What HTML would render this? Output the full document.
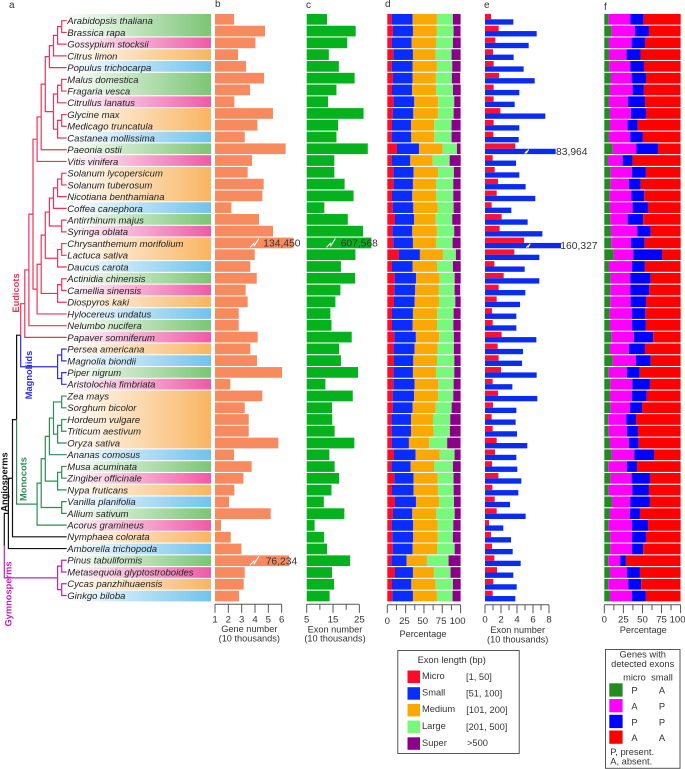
<!DOCTYPE html>
<html lang="en">
<head>
<meta charset="utf-8">
<title>Exon statistics across plant species</title>
<style>
html,body{margin:0;padding:0;background:#fff}
svg{display:block;font-family:"Liberation Sans",Arial,sans-serif}
</style>
</head>
<body>
<svg id="chart" xmlns="http://www.w3.org/2000/svg" width="685" height="769" viewBox="0 0 685 769">
  <defs>
    <linearGradient id="band-green"><stop offset="0" stop-color="#7cc576" stop-opacity="0"/><stop offset="1" stop-color="#7cc576"/></linearGradient>
    <linearGradient id="band-pink"><stop offset="0" stop-color="#ee5aa6" stop-opacity="0"/><stop offset="1" stop-color="#ee5aa6"/></linearGradient>
    <linearGradient id="band-orange"><stop offset="0" stop-color="#f8b562" stop-opacity="0"/><stop offset="1" stop-color="#f8b562"/></linearGradient>
    <linearGradient id="band-blue"><stop offset="0" stop-color="#72c2ec" stop-opacity="0"/><stop offset="1" stop-color="#72c2ec"/></linearGradient>
  </defs>
  <g id="panel-letters" font-size="10" fill="#333">
    <text x="9" y="8">a</text>
    <text x="215" y="7">b</text>
    <text x="306" y="8">c</text>
    <text x="385" y="7">d</text>
    <text x="484" y="8">e</text>
    <text x="604" y="10">f</text>
  </g>
  <g id="bands"></g>
  <g id="tree" fill="none" stroke-width="1.2"></g>
  <g id="labels" font-size="9.5" font-style="italic" fill="#222"></g>
  <g id="clades" font-size="9.3" font-weight="bold">
    <text transform="translate(19,293) rotate(-90)" text-anchor="middle" fill="#f0325a">Eudicots</text>
    <text transform="translate(32,375) rotate(-90)" text-anchor="middle" fill="#2a2ee8">Magnoliids</text>
    <text transform="translate(26.7,479) rotate(-90)" text-anchor="middle" fill="#2e8b57">Monocots</text>
    <text transform="translate(7.5,482) rotate(-90)" text-anchor="middle" fill="#111">Angiosperms</text>
    <text transform="translate(11.5,594) rotate(-90)" text-anchor="middle" fill="#c020c0">Gymnosperms</text>
  </g>
  <g id="panel-b"></g>
  <g id="panel-c"></g>
  <g id="panel-d"></g>
  <g id="panel-e"></g>
  <g id="panel-f"></g>

  <g font-size="9.3" fill="#333">
    <rect x="397.8" y="650.5" width="121.4" height="103" fill="#fff" stroke="#555" stroke-width="1"/>
    <text x="451.7" y="663" text-anchor="middle">Exon length (bp)</text>
    <rect x="407.5" y="670.5" width="12.5" height="12.5" fill="#ff0a2a"/>
    <text x="422" y="679">Micro</text>
    <text x="466" y="680">[1, 50]</text>
    <rect x="407.5" y="687.2" width="12.5" height="12.5" fill="#0a2cff"/>
    <text x="422" y="695.5">Small</text>
    <text x="466" y="696.5">[51, 100]</text>
    <rect x="407.5" y="703.9" width="12.5" height="12.5" fill="#f9a806"/>
    <text x="422" y="712">Medium</text>
    <text x="466.3" y="713">[101, 200]</text>
    <rect x="407.5" y="720.6" width="12.5" height="12.5" fill="#78f97c"/>
    <text x="422" y="729">Large</text>
    <text x="466" y="730">[201, 500]</text>
    <rect x="407.5" y="737.3" width="12.5" height="12.5" fill="#8b008b"/>
    <text x="422" y="746">Super</text>
    <text x="467" y="746">&gt;500</text>
  </g>

  <g font-size="9.3" fill="#333">
    <rect x="605.5" y="649.5" width="74.5" height="118.8" fill="#fff" stroke="#555" stroke-width="1"/>
    <text x="642.7" y="657.5" text-anchor="middle">Genes with</text>
    <text x="642.7" y="667" text-anchor="middle">detected exons</text>
    <text x="634.5" y="680.5" text-anchor="middle">micro</text>
    <text x="662" y="680.5" text-anchor="middle">small</text>
    <rect x="609.3" y="683.3" width="13.3" height="13.3" fill="#228b22"/>
    <text x="634.5" y="693.7" text-anchor="middle">P</text>
    <text x="662" y="693.7" text-anchor="middle">A</text>
    <rect x="609.3" y="699" width="13.3" height="13.3" fill="#ff00ff"/>
    <text x="634.5" y="709.5" text-anchor="middle">A</text>
    <text x="662" y="709.5" text-anchor="middle">P</text>
    <rect x="609.3" y="714.8" width="13.3" height="13.3" fill="#0000ff"/>
    <text x="634.5" y="725.5" text-anchor="middle">P</text>
    <text x="662" y="725.5" text-anchor="middle">P</text>
    <rect x="609.3" y="730.5" width="13.3" height="13.3" fill="#ff0000"/>
    <text x="634.5" y="741" text-anchor="middle">A</text>
    <text x="662" y="741" text-anchor="middle">A</text>
    <text x="610.3" y="755">P, present.</text>
    <text x="610.3" y="764.7">A, absent.</text>
  </g>
</svg>

<script>
const species = ["Arabidopsis thaliana","Brassica rapa","Gossypium stocksii","Citrus limon","Populus trichocarpa","Malus domestica","Fragaria vesca","Citrullus lanatus","Glycine max","Medicago truncatula","Castanea mollissima","Paeonia ostii","Vitis vinifera","Solanum lycopersicum","Solanum tuberosum","Nicotiana benthamiana","Coffea canephora","Antirrhinum majus","Syringa oblata","Chrysanthemum morifolium","Lactuca sativa","Daucus carota","Actinidia chinensis","Camellia sinensis","Diospyros kaki","Hylocereus undatus","Nelumbo nucifera","Papaver somniferum","Persea americana","Magnolia biondii","Piper nigrum","Aristolochia fimbriata","Zea mays","Sorghum bicolor","Hordeum vulgare","Triticum aestivum","Oryza sativa","Ananas comosus","Musa acuminata","Zingiber officinale","Nypa fruticans","Vanilla planifolia","Allium sativum","Acorus gramineus","Nymphaea colorata","Amborella trichopoda","Pinus tabuliformis","Metasequoia glyptostroboides","Cycas panzhihuaensis","Ginkgo biloba"];
const bandNames = ["green","green","pink","orange","blue","green","green","pink","orange","orange","blue","green","pink","orange","orange","orange","blue","green","pink","orange","orange","blue","green","pink","orange","blue","green","pink","orange","blue","green","pink","orange","orange","orange","orange","orange","blue","green","pink","orange","blue","green","pink","orange","blue","green","pink","orange","blue"];

const geneNumber = [2.43,4.75,4.03,2.73,3.33,4.68,3.63,2.45,5.35,4.18,3.23,6.3,3.78,3.45,4.65,4.55,2.23,4.3,5.35,13.445,3.98,3.65,4.13,3.3,3.45,2.78,2.78,4.2,3.65,4.15,6.03,2.15,4.55,3.23,3.53,3.53,5.75,2.43,3.75,3.13,2.45,2.05,5.18,1.45,2.18,2.98,7.6234,3.23,3.15,2.8];
const exonNumber = [12.7,23.6,20.4,13.4,17.2,23.2,16.3,13.1,26.6,16.9,16.3,28.2,15.5,15.5,19.4,22.8,11.7,20.6,26.4,60.7568,23.5,18,23.4,17.8,15.9,14,14.4,22.1,17.3,18,24.5,12.1,22.5,14.6,14.7,15.6,23.1,13.6,15.6,17.3,14.4,11.5,19.3,8,11.6,12.7,21.5,14.6,15.4,13.7];

const shareMicro = [5.9,7.7,5.9,8.2,5.9,7.7,6.4,8.6,7.3,6.4,5.9,13.2,5.9,8.2,8.6,6.4,7.3,10.5,6.8,8.2,15.9,6.4,10,9.5,9.1,6.4,6.4,9.5,8.6,9.1,8.2,8.2,7.3,7.3,5.5,5.9,5.9,9.1,5.5,9.5,6.4,10.5,7.7,5.9,6.8,7.3,5.5,10.5,6.4,6.8];
const shareSmall = [28.6,27.3,27.3,26.8,28.6,26.8,27.3,28.2,28.2,25.9,26.8,30,25.5,27.7,26.4,27.7,28.2,25.9,27.3,26.8,28.6,28.2,29.1,28.6,28.2,28.6,28.2,29.5,28.6,26.4,26.8,29.1,29.1,27.3,26.8,26.4,23.6,29.5,26.4,26.4,29.5,28.6,26.4,29.5,28.6,27.3,20.9,24.5,26.4,28.2];
const shareMedium = [33.2,32.7,33.2,30.9,33.2,31.8,32.7,32.7,33.6,31.8,31.4,32.3,30.5,33.2,31.4,32.3,33.2,29.5,33.6,31.4,31.4,33.2,32.3,32.3,33.2,33.2,33.2,31.8,31.4,32.3,31.4,32.3,32.7,31.4,30,30.9,27.7,32.7,31.8,32.7,33.2,31.4,32.3,33.2,33.2,33.2,27.7,28.6,33.2,32.7];
const shareLarge = [21.8,22.7,23.2,21.8,20.9,21.8,23.2,21.8,21.4,23.6,23.6,19.5,23.2,21.8,23.6,23.6,21.8,22.7,23.6,22.7,17.7,21.8,20.5,21.4,22.3,22.3,22.3,20,22.3,23.6,25,20.9,20.9,21.8,23.6,22.3,24.5,20.5,25.9,21.8,21.4,20.5,25.5,21.4,20.9,24.1,29.5,22.7,23.6,21.4];
const shareSuper = [10.5,9.5,10.5,12.3,11.4,11.4,10.5,8.6,9.5,12.3,12.3,5,15,9.1,10,10,9.5,11.4,8.6,10.9,6.4,10.5,8.2,7.7,7.3,9.5,10,9.1,9.1,8.6,8.6,9.5,10,12.3,14.1,14.5,18.2,8.2,10.5,9.5,9.5,9.1,8.2,10,10.5,8.2,16.4,13.6,10.5,10.9];

const microExons = [0.75,1.71,1.29,1,1.08,1.75,1.08,1.08,1.92,1.08,1.04,3.79,0.96,1.21,1.63,1.46,0.83,2.08,1.83,4.88,3.67,1.17,2.33,1.71,1.46,0.88,0.96,2.08,1.58,1.71,2,0.96,1.63,1,0.83,0.96,1.46,1.25,0.88,1.67,0.92,1.21,1.46,0.5,0.75,0.88,1.17,1.5,1.04,0.96];
const smallExons = [3.54,6.46,5.46,3.58,4.83,6.21,4.29,3.71,7.54,4.29,4.21,8.3964,3.88,4.29,5.08,6.29,3.29,5.33,7.17,16.0327,6.79,4.96,6.79,5.04,4.38,3.92,3.92,6.42,4.75,4.63,6.46,3.42,6.54,3.92,3.83,4,5.29,3.92,4.04,4.54,4.17,3.13,5.08,2.29,3.25,3.46,4.46,3.54,3.96,3.79];

const genesMicroOnly = [5.7,9.6,6.1,6.1,6.6,8.7,7.4,6.1,7.4,7.4,6.1,10.9,4.8,8.3,8.3,7,7.4,7.9,8.7,9.2,12.2,6.1,8.3,7.9,7.9,7,7.4,9.2,7.4,10.9,5.7,7.9,7.4,7.9,5.2,5.7,7.4,9.6,5.2,7.9,5.7,10,7.4,5.7,7.9,7.9,5.2,7.4,5.2,7.4];
const genesSmallOnly = [28.4,30.6,29.7,23.1,27.5,27.1,29.7,24.9,27.5,23.1,27.9,31,19.2,27.9,24,28.4,29.7,22.7,34.5,25.8,25.8,30.1,25.8,26.2,26.6,29.3,28.8,29.7,24.9,30.6,24,28.8,28.8,25.8,23.6,24,24.9,29.7,24.5,27.9,31,24,26.2,30.6,28.4,28.4,15.7,22.3,26.2,28.8];
const genesBoth = [17.5,18.3,17.5,18.3,17.9,18.8,14.8,22.3,19.7,13.1,16.6,28.4,13.1,18.3,15.3,17,20.1,20.5,17.5,17.9,37.6,17,26.6,24.9,20.1,17.5,18.3,25.3,21,19.2,16.6,23.1,19.2,15.7,12.7,14.4,12.7,25.8,13.1,24,21.8,25.8,13.1,21,18.3,14.8,7.4,17,17,18.3];
const genesNeither = [48.5,41.5,46.7,52.4,48,45.4,48,46.7,45.4,56.3,49.3,29.7,62.9,45.4,52.4,47.6,42.8,48.9,39.3,47.2,24.5,46.7,39.3,41,45.4,46.3,45.4,35.8,46.7,39.3,53.7,40.2,44.5,50.7,58.5,55.9,55,34.9,57.2,40.2,41.5,40.2,53.3,42.8,45.4,48.9,71.6,53.3,51.5,45.4];

const geneTicks = [1,2,3,4,5,6];
const geneLabels = ["1","2","3","4","5","6"];
const exonTicks = [5,10,15,20,25];
const exonLabels = ["5","","15","","25"];
const percentTicks = [0,12.5,25,37.5,50,62.5,75,87.5,100];
const percentLabels = ["0","","25","","50","","75","","100"];
const countTicks = [0,1,2,3,4,5,6,7,8];
const countLabels = ["0","","2","","4","","6","","8"];

const SVGNS = "http://www.w3.org/2000/svg";
function make(tag, attrs, parent) {
  const el = document.createElementNS(SVGNS, tag);
  for (const k in attrs) el.setAttribute(k, attrs[k]);
  parent.appendChild(el);
  return el;
}
const $ = id => document.getElementById(id);
const barY = i => 19.3 + 11.77 * i;
const treeY = i => 20.7 + 11.73 * i;
const BAR_H = 10.7;

/* axis functions, with a compressed region for off-scale values */
const xGene = v => 215 + 13.33 * ((v > 7 ? 6.484 + (v - 6) * 0.0533 : v) - 1);
const xExon = v => 306.7 + 2.633 * ((v > 30 ? 29.5 + (v - 30) * 0.002 : v) - 5);
const xPctD = p => 387.3 + 0.733 * p;
const xCount = v => 485 + 8 * (v > 8 ? 8.8 + (v - 8) * 0.0875 : v);
const xPctF = p => 604.3 + 0.763 * p;

/* species bands */
let bandStart = 0;
bandNames.forEach((name, i) => {
  if (i === bandNames.length - 1 || bandNames[i + 1] !== name) {
    const band = make("rect", {
      x: 67, y: barY(bandStart) - BAR_H / 2, width: 144,
      height: barY(i) - barY(bandStart) + BAR_H, fill: "url(#band-" + name + ")"
    }, $("bands"));
    
    
    bandStart = i + 1;
  }
});

/* species labels */
species.forEach((s, i) => {
  const t = make("text", { x: 67.3, y: treeY(i) + 3.4 }, $("labels"));
  t.textContent = s;
  
  
});

/* tree topology: depth level plus children; a number is a species row */
const n = (d, ...kids) => ({ d, kids });
const clade = (node, color) => { node.color = color; return node; };
const rosids = n(8, n(9, n(10,
  n(11, n(12, n(13, n(14, 0, 1), 2), 3), 4),
  n(12, n(13, n(14, 5, 6), 7), n(13, n(14, 8, 9), 10))), 11), 12);
const asterids = n(8, n(9, n(10,
  n(11, n(12, n(13, n(14, 13, 14), 15), 16), n(14, 17, 18)),
  n(13, n(14, 19, 20), 21)),
  n(13, n(14, 22, 23), 24)), 25);
const eudicots = clade(n(5, n(6, n(7, rosids, asterids), 26), 27), "#f0325a");
const magnoliids = clade(n(13, n(14, 28, 29), n(14, 30, 31)), "#2a2ee8");
const monocots = clade(n(8, n(9, n(10, n(11,
  n(12, n(14, 32, 33), n(13, n(14, 34, 35), 36)), 37),
  n(13, n(14, 38, 39), 40)),
  n(14, 41, 42)), 43), "#2e8b57");
const gymnosperms = clade(n(13, n(14, 46, 47), n(14, 48, 49)), "#c020c0");
const treeRoot = clade(n(0, n(1, n(2, n(3, n(4, eudicots, magnoliids), monocots), 44), 45), gymnosperms), "#111");

const depthX = d => 4.3 + 4.1 * d;
const LEAF_X = 66.7;
function nodeY(node) {
  if (typeof node === "number") return treeY(node);
  const first = nodeY(node.kids[0]);
  const last = nodeY(node.kids[node.kids.length - 1]);
  return (first + last) / 2;
}
function drawTree(node, color) {
  const x = depthX(node.d);
  const y = nodeY(node);
  node.kids.forEach(kid => {
    const isLeaf = typeof kid === "number";
    const kidColor = (!isLeaf && kid.color) || color;
    const kx = isLeaf ? LEAF_X : depthX(kid.d);
    const ky = nodeY(kid);
    const branch = make("path", { d: "M" + x + " " + y + "V" + ky + "H" + kx, stroke: kidColor }, $("tree"));
    
    
    if (!isLeaf) drawTree(kid, kidColor);
  });
}
drawTree(treeRoot, treeRoot.color);

/* shared chart helpers */
function drawBar(parent, x0, x1, y, h, fill) {
  return make("rect", { x: x0, y: y, width: Math.max(0, x1 - x0), height: h, fill: fill }, parent);
}
function drawBreak(parent, cx, cy, s) {
  const m = make("path", {
    d: "M" + (cx - 4 * s) + " " + (cy + 4 * s) + "L" + (cx - 0.6 * s) + " " + (cy + 0.3 * s) +
       "L" + (cx - 0.2 * s) + " " + (cy + 2.5 * s) + "L" + (cx + 4 * s) + " " + (cy - 4 * s),
    fill: "none", stroke: "#fff", "stroke-width": 1.1
  }, parent);
  
  
}
function drawValue(parent, x, y, str) {
  const t = make("text", { x: x, y: y, "font-size": 10.3, fill: "#333" }, parent);
  t.textContent = str;
  
  
}
function drawAxis(parent, scale, ticks, labels, lineY, labelY, titles, titleX, labelShift) {
  const line = make("path", { d: "M" + scale(ticks[0]) + " " + lineY + "H" + scale(ticks[ticks.length - 1]), stroke: "#555", fill: "none", "stroke-width": 1 }, parent);
  
  
  ticks.forEach((v, i) => {
    const long = labels[i] !== "";
    const tick = make("path", { d: "M" + scale(v) + " " + lineY + "v" + (long ? 8.5 : 5.5), stroke: "#555", fill: "none", "stroke-width": 1 }, parent);
    
    
    if (long) {
      const shift = labelShift ? labelShift(i) : 0;
      const lab = make("text", { x: scale(v) + shift, y: labelY, "text-anchor": "middle", "font-size": 9.6, fill: "#333" }, parent);
      lab.textContent = labels[i];
      
      
    }
  });
  titles.forEach(ti => {
    const t = make("text", { x: titleX, y: ti[1], "text-anchor": "middle", "font-size": 9.2, fill: "#333" }, parent);
    t.textContent = ti[0];
    
    
  });
}

/* panel b */
geneNumber.forEach((v, i) => {
  const b = drawBar($("panel-b"), xGene(1), xGene(v), barY(i) - BAR_H / 2, BAR_H, "#f78a5f");
  
  
  if (v > 7) {
    drawBreak($("panel-b"), 254.5, barY(i), 1.1);
    drawValue($("panel-b"), v > 10 ? 263.3 : 265.7, barY(i) + 3.6, Math.round(v * 10000).toLocaleString("en-US"));
  }
});
drawAxis($("panel-b"), xGene, geneTicks, geneLabels, 604.3, 622.7,
  [["Gene number", 632], ["(10 thousands)", 641.7]], 249.3);

/* panel c */
exonNumber.forEach((v, i) => {
  const b = drawBar($("panel-c"), xExon(5), xExon(v), barY(i) - BAR_H / 2, BAR_H, "#05b11c");
  
  
  if (v > 30) {
    drawBreak($("panel-c"), 331, barY(i), 1.1);
    drawValue($("panel-c"), 340.7, barY(i) + 3.6, Math.round(v * 10000).toLocaleString("en-US"));
  }
});
drawAxis($("panel-c"), xExon, exonTicks, exonLabels, 604.3, 622.7,
  [["Exon number", 632.5], ["(10 thousands)", 641.7]], 335);

/* panel d */
const lengthSeries = [shareMicro, shareSmall, shareMedium, shareLarge, shareSuper];
const lengthColors = ["#ff0a2a", "#0a2cff", "#f9a806", "#78f97c", "#8b008b"];
species.forEach((s, i) => {
  let cum = 0;
  lengthSeries.forEach((series, k) => {
    const seg = drawBar($("panel-d"), xPctD(cum), xPctD(cum + series[i]), barY(i) - BAR_H / 2, BAR_H, lengthColors[k]);
    
    
    cum += series[i];
  });
});
drawAxis($("panel-d"), xPctD, percentTicks, percentLabels, 604.7, 624,
  [["Percentage", 637]], 423, i => (i === 8 ? -3 : i === 0 ? 0 : -1.2));

/* panel e */
species.forEach((s, i) => {
  const m = drawBar($("panel-e"), xCount(0), xCount(microExons[i]), barY(i) - 5.35, 5.35, "#ff1030");
  
  
  const b = drawBar($("panel-e"), xCount(0), xCount(smallExons[i]), barY(i), 5.35, "#0a2cf0");
  
  
  if (smallExons[i] > 8) {
    drawBreak($("panel-e"), smallExons[i] > 10 ? 528.3 : 526.7, barY(i) + 2.7, 0.5);
    drawValue($("panel-e"), smallExons[i] > 10 ? 560.3 : 556, barY(i) + 6, Math.round(smallExons[i] * 10000).toLocaleString("en-US"));
  }
});
drawAxis($("panel-e"), xCount, countTicks, countLabels, 604.7, 622.7,
  [["Exon number", 633], ["(10 thousands)", 642.3]], 517.7);

/* panel f */
const detectSeries = [genesMicroOnly, genesSmallOnly, genesBoth, genesNeither];
const detectColors = ["#228b22", "#ff00ff", "#0000ff", "#ff0000"];
species.forEach((s, i) => {
  let cum = 0;
  detectSeries.forEach((series, k) => {
    const seg = drawBar($("panel-f"), xPctF(cum), xPctF(cum + series[i]), barY(i) - BAR_H / 2, BAR_H, detectColors[k]);
    
    
    cum += series[i];
  });
});
drawAxis($("panel-f"), xPctF, percentTicks, percentLabels, 604.7, 622.7,
  [["Percentage", 633]], 643.3, i => (i === 8 ? -3 : 0));
</script>
</body>
</html>
